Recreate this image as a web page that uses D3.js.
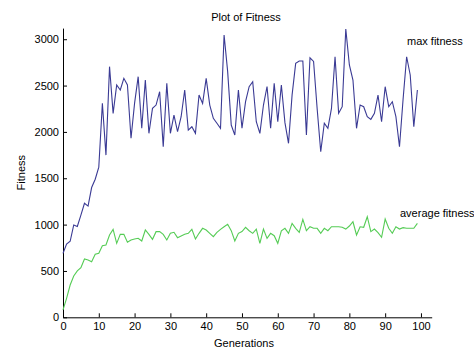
<!DOCTYPE html>
<html>
<head>
<meta charset="utf-8">
<script src="https://cdn.jsdelivr.net/npm/d3@7"></script>
<style>
  html, body { margin: 0; padding: 0; background: #fff; }
  svg { display: block; }
  text { font-family: "Liberation Sans", Arial, Helvetica, sans-serif; fill: #000; }
</style>
</head>
<body>
<svg id="chart" width="474" height="355"></svg>
<script>
// ---- data ----
const generations = d3.range(0, 100);
const maxFitness = [
  690, 790, 820, 996, 980, 1103, 1230, 1200, 1400, 1490,
  1620, 2308, 1750, 2704, 2200, 2506, 2452, 2578, 2506, 1931,
  2310, 2596, 2039, 2560, 1985, 2254, 2290, 2434, 1840, 2524,
  1985, 2182, 2002, 2164, 2452, 2020, 2056, 1985, 2398, 2308,
  2578, 2290, 2146, 2093, 2039, 3045, 2650, 2074, 1966, 2452,
  2039, 2326, 2488, 2542, 2110, 1985, 2290, 2490, 2039, 2524,
  2110, 2506, 2100, 1877, 2400, 2740, 2765, 2765, 1966, 2800,
  2760, 2250, 1786, 2093, 2039, 2254, 2811, 2200, 2272, 3110,
  2722, 2560, 2039, 2290, 2272, 2164, 2135, 2200, 2398, 2110,
  2488, 2272, 2326, 2164, 1840, 2350, 2811, 2614, 2056, 2452
];
const avgFitness = [
  80, 205, 348, 445, 500, 535, 629, 618, 600, 680,
  690, 772, 780, 888, 949, 798, 895, 895, 809, 834,
  845, 852, 823, 942, 895, 841, 924, 924, 895, 834,
  906, 917, 859, 877, 895, 906, 949, 845, 906, 960,
  942, 906, 870, 917, 949, 977, 1003, 935, 823, 906,
  925, 970, 934, 906, 952, 798, 952, 852, 906, 880,
  798, 934, 960, 906, 1014, 960, 917, 1057, 934, 977,
  960, 960, 906, 960, 934, 977, 977, 977, 971, 952,
  985, 1031, 888, 977, 971, 1085, 924, 952, 913, 863,
  1060, 960, 906, 977, 952, 967, 960, 960, 960, 1014
];
const xTicks = [0, 10, 20, 30, 40, 50, 60, 70, 80, 90, 100];
const yTicks = [0, 500, 1000, 1500, 2000, 2500, 3000];
const titleText = "Plot of Fitness";
const xLabel = "Generations";
const yLabel = "Fitness";
const seriesLabels = ["max fitness", "average fitness"];

// ---- layout ----
const svg = d3.select("#chart");
const plotLeft = 63, plotRight = 431.7, plotTop = 28.1, plotBottom = 317.3;

const x = d3.scaleLinear().domain([0, 103]).range([plotLeft, plotRight]);
const y = d3.scaleLinear().domain([0, 3120]).range([plotBottom, plotTop]);

svg.append("rect").attr("width", 474).attr("height", 355).attr("fill", "#fff");

// axes
const xAxis = d3.axisBottom(x).tickValues(xTicks).tickFormat(d3.format("d"))
  .tickSizeInner(-4).tickSizeOuter(0).tickPadding(4.5);
const yAxis = d3.axisLeft(y).tickValues(yTicks).tickFormat(d3.format("d"))
  .tickSizeInner(-4).tickSizeOuter(0).tickPadding(4);

const gx = svg.append("g").attr("transform", `translate(0,${plotBottom})`).call(xAxis);
const gy = svg.append("g").attr("transform", `translate(${plotLeft},0)`).call(yAxis);
[gx, gy].forEach(g => {
  g.selectAll("text").style("font-size", "11px").attr("fill", "#000")
    .style("font-family", '"Liberation Sans", Arial, sans-serif');
  g.selectAll("line, path").attr("stroke", "#000").attr("stroke-width", 1);
});

// lines
const line = d3.line().x((d, i) => x(generations[i])).y(d => y(d));
svg.append("path").datum(maxFitness)
  .attr("d", line).attr("fill", "none")
  .attr("stroke", "#3a3a94").attr("stroke-width", 1.1);
svg.append("path").datum(avgFitness)
  .attr("d", line).attr("fill", "none")
  .attr("stroke", "#55cc55").attr("stroke-width", 1.1);

// texts
svg.append("text").attr("x", 246).attr("y", 20.5).attr("text-anchor", "middle")
  .style("font-size", "11px").text(titleText);
svg.append("text").attr("x", 244).attr("y", 347).attr("text-anchor", "middle")
  .style("font-size", "11px").text(xLabel);
svg.append("text").attr("transform", `translate(25,172.7) rotate(-90)`)
  .attr("text-anchor", "middle").style("font-size", "11px").text(yLabel);
svg.append("text").attr("x", 407).attr("y", 45).style("font-size", "11px").text(seriesLabels[0]);
svg.append("text").attr("x", 400).attr("y", 217.3).style("font-size", "11px").text(seriesLabels[1]);
</script>
</body>
</html>
